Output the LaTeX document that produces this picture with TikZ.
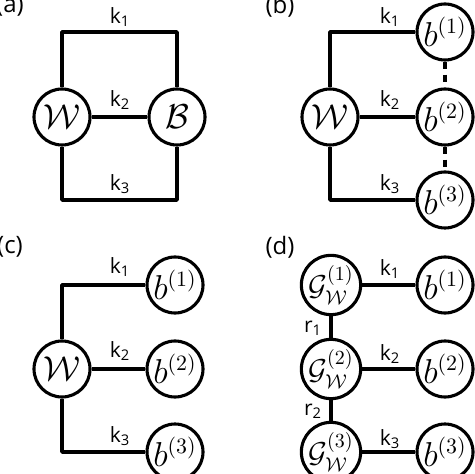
\documentclass[tikz,border=0pt]{standalone}
\usepackage{amsmath}
\usepackage{amssymb}
\usepackage{fontspec}
\setmainfont{Open Sans}
\usepackage{tikz}

\begin{document}
\begin{tikzpicture}[x=0.5pt,y=-0.5pt,line join=bevel,line width=1.55pt,
  state/.style={draw,circle,minimum size=28pt,inner sep=0pt,font=\fontsize{16}{18}\selectfont},
  small state/.style={state,font=\fontsize{14}{16}\selectfont},
  rate/.style={font=\fontsize{10.5}{12}\selectfont,inner sep=1pt},
  panel/.style={font=\fontsize{12}{14}\selectfont,inner sep=0pt}]
\useasboundingbox (0,0) rectangle (474,474);
%% (a)
\node (a_lab) at (10,6) [panel] {(a)};
\node (a_W) at (62,117) [state] {$\mathcal{W}$};
\node (a_B) at (177,117) [state] {$\mathcal{B}$};
\node (a_k1) at (120,17) [rate] {k\textsubscript{1}};
\node (a_k2) at (120,100) [rate] {k\textsubscript{2}};
\node (a_k3) at (120,184) [rate] {k\textsubscript{3}};
\coordinate (a_top) at (120,32);
\coordinate (a_bot) at (120,200);
\draw (a_W.north) |- (a_top) -| (a_B.north);
\draw (a_W) -- (a_B);
\draw (a_W.south) |- (a_bot) -| (a_B.south);
%% (b)
\node (b_lab) at (280,6) [panel] {(b)};
\node (b_W) at (330,117) [state] {$\mathcal{W}$};
\node (b_b1) at (445,32) [state] {$b^{(1)}$};
\node (b_b2) at (445,117) [state] {$b^{(2)}$};
\node (b_b3) at (445,200) [state] {$b^{(3)}$};
\node (b_k1) at (390,17) [rate] {k\textsubscript{1}};
\node (b_k2) at (390,100) [rate] {k\textsubscript{2}};
\node (b_k3) at (390,184) [rate] {k\textsubscript{3}};
\draw (b_W.north) |- (b_b1.west);
\draw (b_W) -- (b_b2);
\draw (b_W.south) |- (b_b3.west);
\draw [dash pattern=on 3.5pt off 3pt] (b_b1) -- (b_b2);
\draw [dash pattern=on 3.5pt off 3pt] (b_b2) -- (b_b3);
%% (c)
\node (c_lab) at (10,247) [panel] {(c)};
\node (c_W) at (62,369) [state] {$\mathcal{W}$};
\node (c_b1) at (175,285) [state] {$b^{(1)}$};
\node (c_b2) at (175,369) [state] {$b^{(2)}$};
\node (c_b3) at (175,452) [state] {$b^{(3)}$};
\node (c_k1) at (120,267) [rate] {k\textsubscript{1}};
\node (c_k2) at (120,351) [rate] {k\textsubscript{2}};
\node (c_k3) at (120,436) [rate] {k\textsubscript{3}};
\draw (c_W.north) |- (c_b1.west);
\draw (c_W) -- (c_b2);
\draw (c_W.south) |- (c_b3.west);
%% (d)
\node (d_lab) at (280,247) [panel] {(d)};
\node (d_G1) at (331,285) [small state] {$\mathcal{G}_{\mathcal{W}}^{(1)}$};
\node (d_G2) at (331,369) [small state] {$\mathcal{G}_{\mathcal{W}}^{(2)}$};
\node (d_G3) at (331,452) [small state] {$\mathcal{G}_{\mathcal{W}}^{(3)}$};
\node (d_b1) at (445,285) [state] {$b^{(1)}$};
\node (d_b2) at (445,369) [state] {$b^{(2)}$};
\node (d_b3) at (445,452) [state] {$b^{(3)}$};
\node (d_k1) at (390,269) [rate] {k\textsubscript{1}};
\node (d_k2) at (390,354) [rate] {k\textsubscript{2}};
\node (d_k3) at (390,439) [rate] {k\textsubscript{3}};
\node (d_r1) at (313,328) [rate] {r\textsubscript{1}};
\node (d_r2) at (313,411) [rate] {r\textsubscript{2}};
\draw (d_G1) -- (d_b1);
\draw (d_G2) -- (d_b2);
\draw (d_G3) -- (d_b3);
\draw (d_G1) -- (d_G2);
\draw (d_G2) -- (d_G3);
%
\end{tikzpicture}
\end{document}
